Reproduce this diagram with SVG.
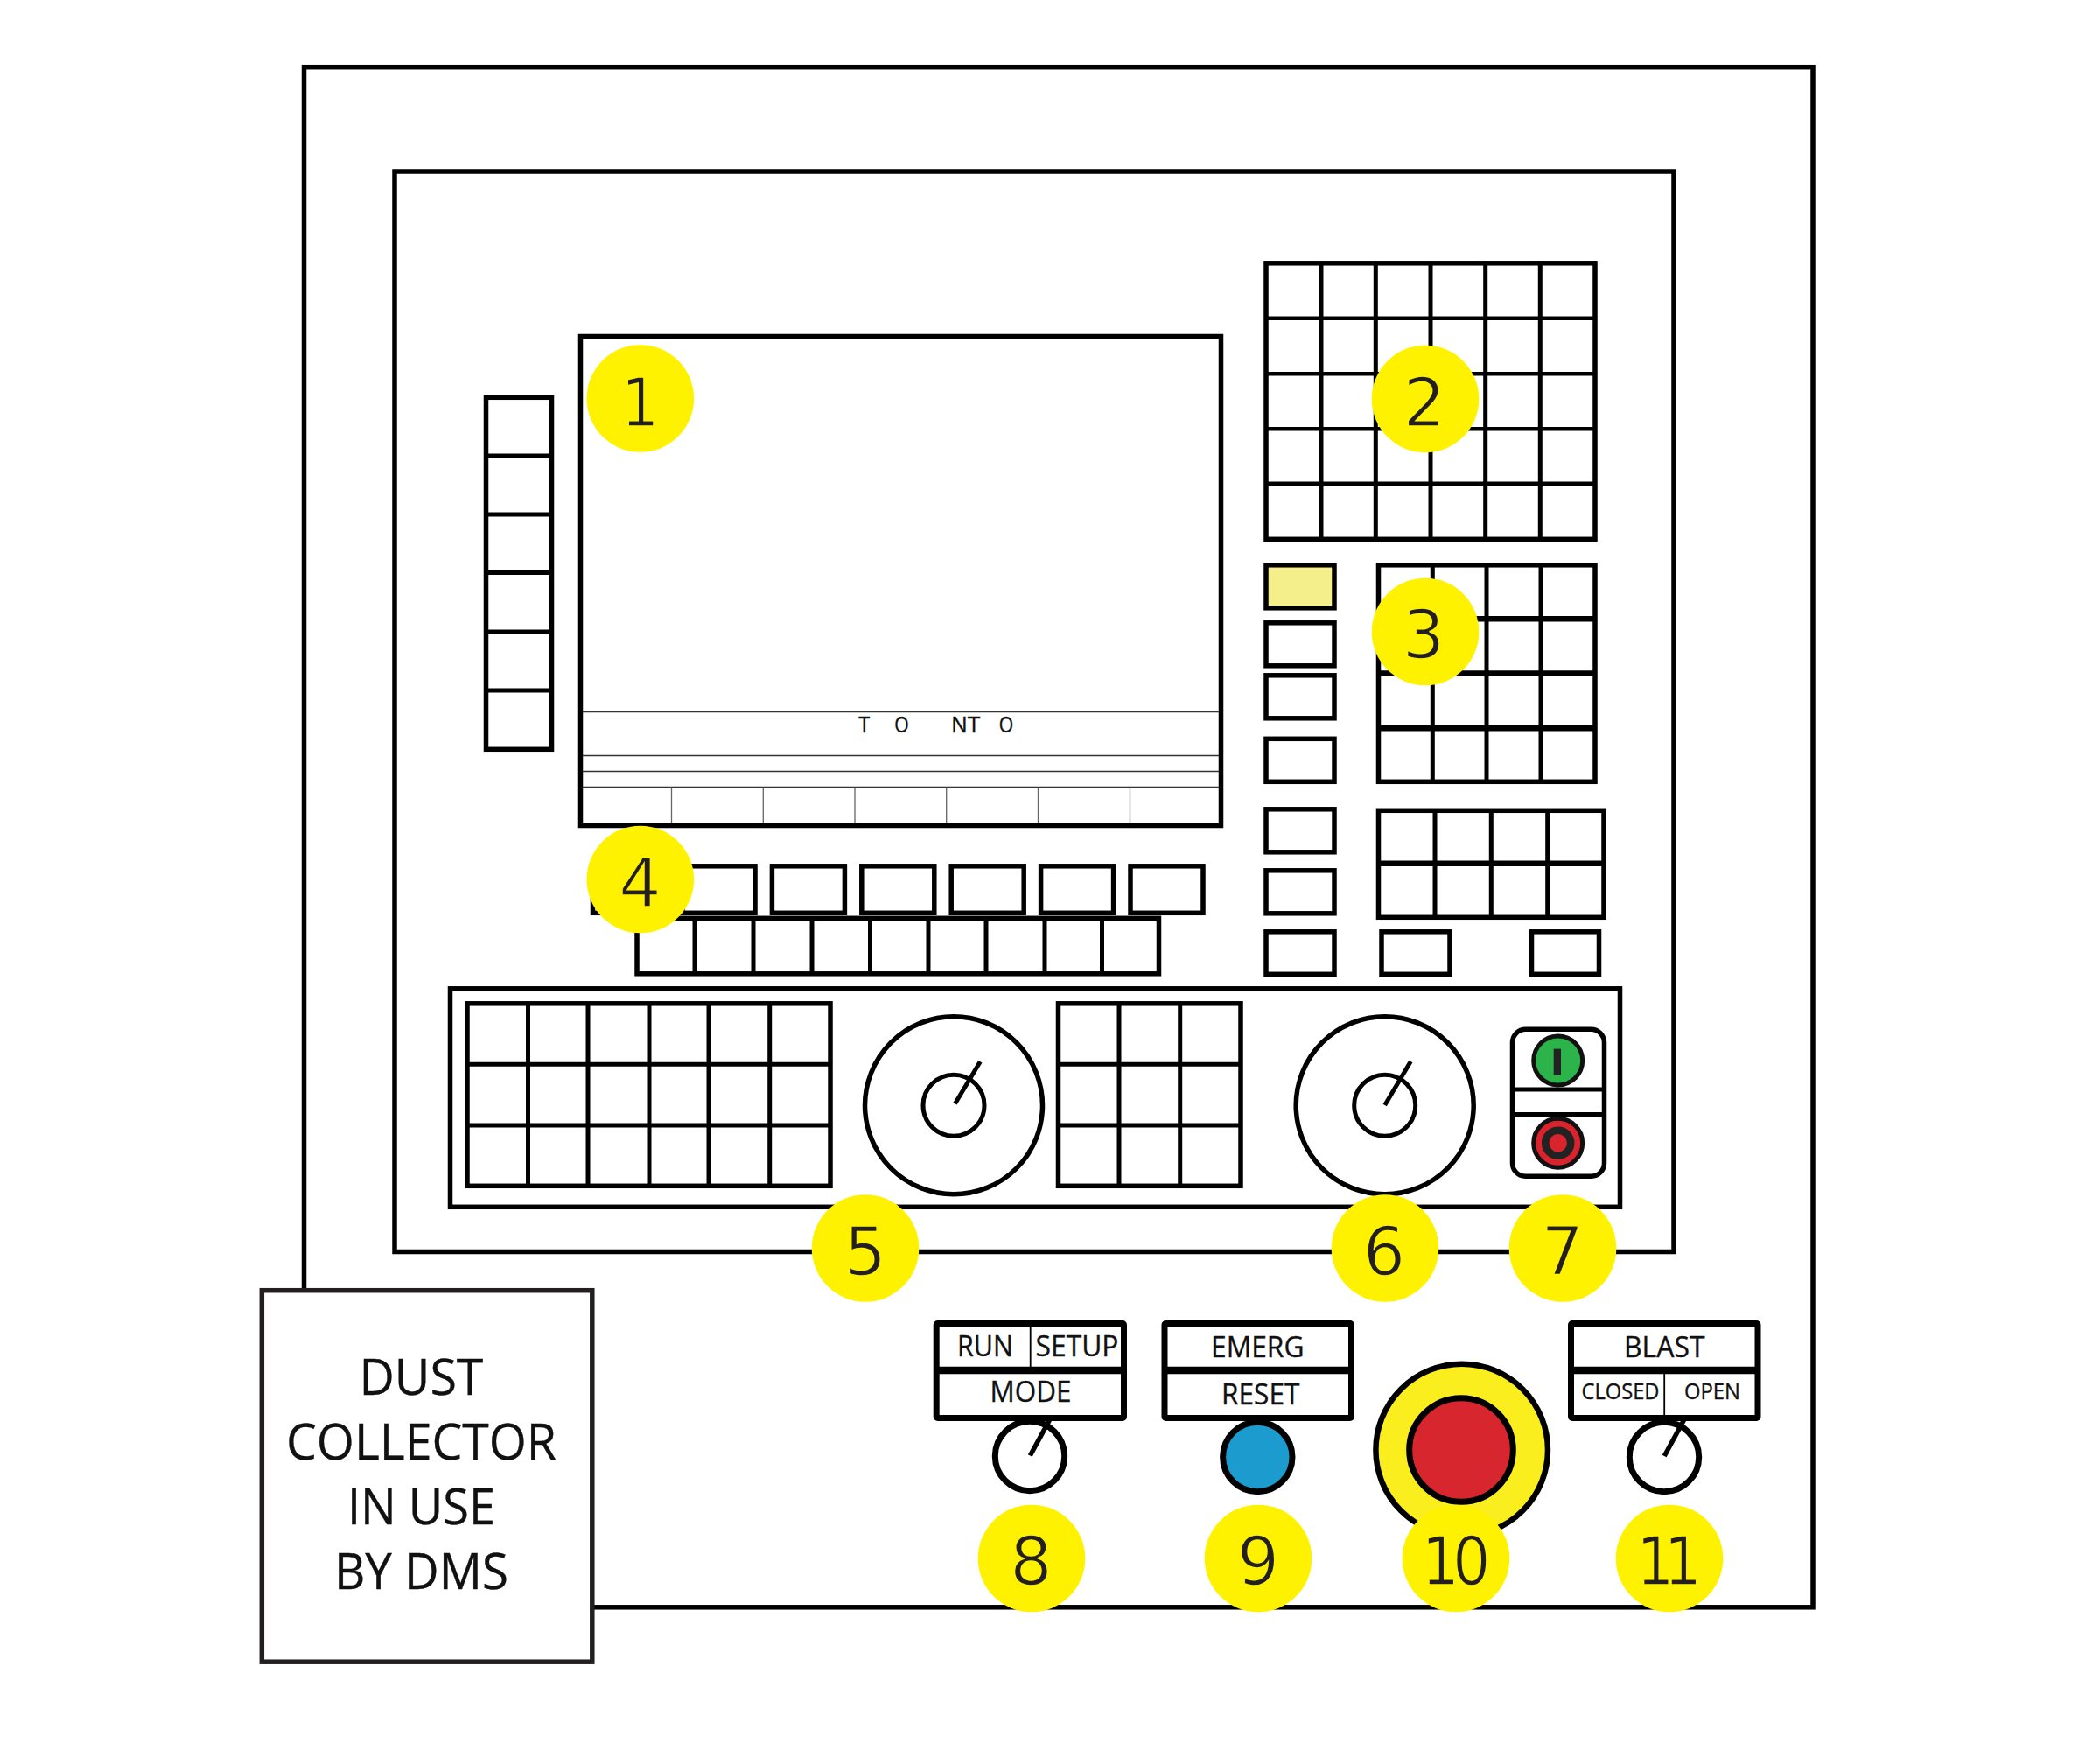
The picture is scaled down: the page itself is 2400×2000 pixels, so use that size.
<svg xmlns="http://www.w3.org/2000/svg" width="2400" height="2000" viewBox="0 0 2400 2000">
<style>
.k{fill:#fff;stroke:#000;stroke-width:5.5}
.n{fill:none;stroke:#000;stroke-width:5}
.h{fill:none;stroke:#000;stroke-width:6.5}
.f{fill:none;stroke:#000;stroke-width:4.4}
.t{fill:none;stroke:#333;stroke-width:1.3}
.l{font-family:"Open Sans","Liberation Sans",sans-serif;fill:#111;stroke:#111;stroke-width:.35px}
.s{font-family:"Liberation Sans",sans-serif;font-size:26.5px;fill:#111;stroke:#111;stroke-width:.3px}
.m{fill:#fff200}
.d{font-family:"DejaVu Sans",sans-serif;font-size:76px;fill:#231f20;text-anchor:middle;stroke:#fff200;stroke-width:1.5px}
.c{font-family:"DejaVu Sans Condensed","DejaVu Sans",sans-serif}
.p{fill:#fff;stroke:#000;stroke-width:7}
.q{fill:none;stroke:#000;stroke-width:8.3}
.v{fill:none;stroke:#000;stroke-width:1.8}
</style>
<rect width="2400" height="2000" fill="#fff"/>
<g id="enclosure"><rect x="347.500" y="76.700" width="1724.500" height="1760.100" class="k"/></g>
<g id="panel-frame"><rect x="451" y="196" width="1462" height="1234.500" class="k"/></g>
<g id="side-strip"><rect x="555.500" y="454.300" width="75" height="402" class="k"/><path d="M555 521H631M555 588H631M555 654.500H631M555 722H631M555 789H631" class="n"/></g>
<g id="screen"><rect x="663.500" y="384.500" width="732" height="559" class="k"/>
<path d="M666 813.500H1393M666 863.500H1393M666 881.500H1393M666 899.500H1393" class="t"/>
<path d="M767.500 899.500V941M872.300 899.500V941M977 899.500V941M1081.700 899.500V941M1186.500 899.500V941M1291.500 899.500V941" fill="none" stroke="#666" stroke-width="1.300"/>
<text x="981" y="837" class="s" textLength="13.500" lengthAdjust="spacingAndGlyphs">T</text><text x="1022.500" y="837" class="s" textLength="16" lengthAdjust="spacingAndGlyphs">O</text><text x="1087.500" y="837" class="s" textLength="33" lengthAdjust="spacingAndGlyphs">NT</text><text x="1142" y="837" class="s" textLength="16" lengthAdjust="spacingAndGlyphs">O</text></g>
<g id="softkeys"><rect x="677.500" y="989.800" width="83" height="53.500" class="k"/><rect x="780" y="989.800" width="83" height="53.500" class="k"/><rect x="882.400" y="989.800" width="83" height="53.500" class="k"/><rect x="984.800" y="989.800" width="83" height="53.500" class="k"/><rect x="1087.200" y="989.800" width="83" height="53.500" class="k"/><rect x="1189.600" y="989.800" width="83" height="53.500" class="k"/><rect x="1292" y="989.800" width="83" height="53.500" class="k"/></g>
<g id="key-row"><rect x="728" y="1049.300" width="596.500" height="63.500" class="k"/><path d="M794 1049V1112M861 1049V1112M928 1049V1112M994.500 1049V1112M1061 1049V1112M1127 1049V1112M1194 1049V1112M1259.500 1049V1112" class="n"/></g>
<g id="grid-top"><rect x="1447" y="300.800" width="376" height="315.500" class="k"/><path d="M1510 300V616M1572.300 300V616M1635 300V616M1697.700 300V616M1760.300 300V616" class="n"/><path d="M1447 363.800H1823M1447 427.300H1823M1447 490.300H1823M1447 552.800H1823" class="f"/></g>
<g id="side-buttons"><rect x="1447" y="645.800" width="78" height="49" fill="#f4ef8a" stroke="#000" stroke-width="5.500"/><rect x="1447" y="711.800" width="78" height="49" class="k"/><rect x="1447" y="771.800" width="78" height="49" class="k"/><rect x="1447" y="844.300" width="78" height="49" class="k"/><rect x="1447" y="924.800" width="78" height="49" class="k"/><rect x="1447" y="994.800" width="78" height="49" class="k"/><rect x="1447" y="1064.800" width="78" height="48.500" class="k"/></g>
<g id="grid-mid"><rect x="1575.500" y="645.800" width="247.500" height="247.500" class="k"/><path d="M1637.300 645V893M1699 645V893M1761 645V893" class="n"/><path d="M1575 707.300H1823M1575 769.600H1823M1575 832.300H1823" class="h"/></g>
<g id="grid-low"><rect x="1575.500" y="926.300" width="257.500" height="122" class="k"/><path d="M1640 926V1048M1704.300 926V1048M1768.700 926V1048" class="n"/><path d="M1575 986.800H1833" class="h"/></g>
<g id="low-buttons"><rect x="1579" y="1064.800" width="78" height="48.500" class="k"/><rect x="1750.500" y="1064.800" width="77" height="48.500" class="k"/></g>
<g id="control-strip"><rect x="514.500" y="1129.800" width="1337" height="249.500" class="k"/></g>
<g id="grid-left"><rect x="534" y="1146.800" width="415" height="208.500" class="k"/><path d="M603.500 1146V1355M672 1146V1355M742 1146V1355M810 1146V1355M879.700 1146V1355M534 1216.300H949M534 1286H949" class="n"/></g>
<g id="dial-left"><circle cx="1090" cy="1263.300" r="101.500" class="k"/><circle cx="1090" cy="1263.300" r="35" class="n"/><path d="M1091.500 1261.300L1120.300 1213.300" class="n"/></g>
<g id="grid-right"><rect x="1209.500" y="1146.800" width="208.500" height="208.500" class="k"/><path d="M1279 1146V1355M1348.700 1146V1355M1209 1216.300H1418M1209 1286H1418" class="n"/></g>
<g id="dial-right"><circle cx="1582.700" cy="1263.300" r="101.500" class="k"/><circle cx="1582.700" cy="1263.300" r="35" class="n"/><path d="M1582.700 1263L1612.300 1213" class="n"/></g>
<g id="pushbutton-station"><rect x="1728.500" y="1176.300" width="105" height="168" rx="15" class="k"/><path d="M1729 1245H1833M1729 1273.600H1833" class="n"/>
<circle cx="1780.700" cy="1212" r="28" fill="#2cb34a" stroke="#111" stroke-width="5"/><rect x="1775.700" y="1198.600" width="8.300" height="30" fill="#222"/>
<circle cx="1780.700" cy="1306.300" r="28" fill="#d9232d" stroke="#111" stroke-width="5"/><circle cx="1780.700" cy="1306.300" r="14.500" fill="#d9232d" stroke="#222" stroke-width="8.500"/></g>
<g id="knob-mode"><circle cx="1177" cy="1664" r="39.700" fill="#fff" stroke="#000" stroke-width="7"/><path d="M1177.300 1663.500L1200 1622" fill="none" stroke="#000" stroke-width="5.500"/></g>
<g id="plate-mode"><rect x="1070.200" y="1512.500" width="214.300" height="108" rx="1.500" class="p"/><path d="M1070 1566H1284" class="q"/><path d="M1177.700 1515V1562" class="v"/>
<text x="1094" y="1550" class="l" font-size="33" textLength="64" lengthAdjust="spacingAndGlyphs">RUN</text><text x="1183.500" y="1550" class="l" font-size="33" textLength="95" lengthAdjust="spacingAndGlyphs">SETUP</text><text x="1131.500" y="1601.500" class="l" font-size="33" textLength="93" lengthAdjust="spacingAndGlyphs">MODE</text></g>
<g id="button-reset"><circle cx="1437.300" cy="1665" r="39.700" fill="#1c9bce" stroke="#000" stroke-width="7"/></g>
<g id="plate-reset"><rect x="1331" y="1512.500" width="213.500" height="108" rx="1.500" class="p"/><path d="M1331 1566H1544.500" class="q"/>
<text x="1384" y="1551" class="l" font-size="33" textLength="106.500" lengthAdjust="spacingAndGlyphs">EMERG</text><text x="1396" y="1605" class="l" font-size="33" textLength="89.500" lengthAdjust="spacingAndGlyphs">RESET</text></g>
<g id="emergency-stop"><circle cx="1670.700" cy="1657" r="98.300" fill="#faee1e" stroke="#000" stroke-width="6.500"/><circle cx="1670" cy="1657" r="59.300" fill="#d7262d" stroke="#000" stroke-width="7"/></g>
<g id="knob-blast"><circle cx="1902" cy="1665" r="39.700" fill="#fff" stroke="#000" stroke-width="7"/><path d="M1902.200 1664L1925 1622" fill="none" stroke="#000" stroke-width="5.500"/></g>
<g id="plate-blast"><rect x="1795.500" y="1512.500" width="213.500" height="108" rx="1.500" class="p"/><path d="M1795.500 1566H2009" class="q"/><path d="M1902.200 1570V1618" class="v"/>
<text x="1856" y="1550.500" class="l" font-size="33" textLength="92.500" lengthAdjust="spacingAndGlyphs">BLAST</text><text x="1807.500" y="1599" class="l" font-size="26" textLength="89" lengthAdjust="spacingAndGlyphs">CLOSED</text><text x="1925" y="1599" class="l" font-size="26" textLength="64" lengthAdjust="spacingAndGlyphs">OPEN</text></g>
<g id="dust-sign"><rect x="299.300" y="1474.700" width="377.500" height="424.500" fill="#fff" stroke="#231f20" stroke-width="5.500"/>
<text x="410.500" y="1593.500" class="l" font-size="56" textLength="142" lengthAdjust="spacingAndGlyphs">DUST</text><text x="327" y="1667.500" class="l" font-size="56" textLength="309" lengthAdjust="spacingAndGlyphs">COLLECTOR</text><text x="397" y="1741.500" class="l" font-size="56" textLength="169" lengthAdjust="spacingAndGlyphs">IN USE</text><text x="382" y="1815.500" class="l" font-size="56" textLength="199" lengthAdjust="spacingAndGlyphs">BY DMS</text></g>
<g id="marker-1"><circle cx="731.800" cy="455.500" r="61.300" class="m"/><text x="731.500" y="487" class="d c">1</text></g>
<g id="marker-2"><circle cx="1629" cy="456" r="61.300" class="m"/><text x="1628" y="487" class="d">2</text></g>
<g id="marker-3"><circle cx="1629" cy="722" r="61.300" class="m"/><text x="1627" y="752" class="d">3</text></g>
<g id="marker-4"><circle cx="731.800" cy="1005" r="61.300" class="m"/><text x="731.500" y="1035.500" class="d">4</text></g>
<g id="marker-5"><circle cx="989" cy="1426.500" r="61.300" class="m"/><text x="988.700" y="1457" class="d">5</text></g>
<g id="marker-6"><circle cx="1583" cy="1426.500" r="61.300" class="m"/><text x="1582" y="1457" class="d">6</text></g>
<g id="marker-7"><circle cx="1786" cy="1426.500" r="61.300" class="m"/><text x="1785.700" y="1457" class="d">7</text></g>
<g id="marker-8"><circle cx="1179" cy="1781" r="61.300" class="m"/><text x="1178.400" y="1811" class="d">8</text></g>
<g id="marker-9"><circle cx="1438" cy="1781" r="61.300" class="m"/><text x="1438" y="1811" class="d">9</text></g>
<g id="marker-10"><circle cx="1664" cy="1781" r="61.300" class="m"/><text x="1660" y="1811" class="d c" letter-spacing="-8">10</text></g>
<g id="marker-11"><circle cx="1908" cy="1781" r="61.300" class="m"/><text x="1901.500" y="1811" class="d c" letter-spacing="-12">11</text></g>
</svg>
